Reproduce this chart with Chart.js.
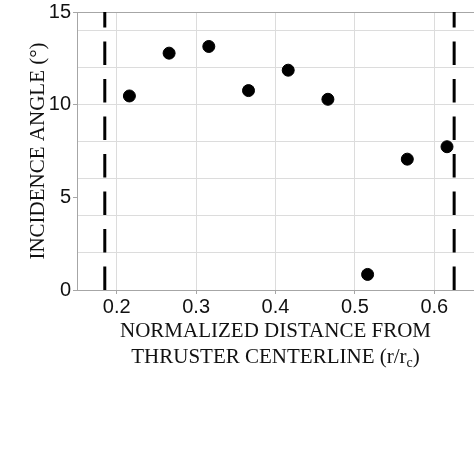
<!DOCTYPE html>
<html>
<head>
<meta charset="utf-8">
<script src="https://cdn.jsdelivr.net/npm/chart.js@4"></script>
<style>
  body { margin: 0; background: #fff; }
  canvas { display: block; }
</style>
</head>
<body>
<canvas id="chart" width="474" height="449"></canvas>
<script>
// measured points
const distance = [0.216, 0.266, 0.316, 0.366, 0.416, 0.466, 0.516, 0.566, 0.616];
const angle = [10.47, 12.78, 13.14, 10.76, 11.86, 10.29, 0.84, 7.06, 7.73];
// dashed boundary lines
const boundaries = [0.185, 0.625];

const xTicks = [0.2, 0.3, 0.4, 0.5, 0.6];
const yLabels = [0, 5, 10, 15];
const yGrid = [2, 4, 6, 8, 10, 12, 14];

const gridGray = "#dcdcdc";
const boxGray = "#a6a6a6";

const titles = {
  id: "titles",
  afterDraw(chart) {
    const { ctx, chartArea } = chart;
    const cx = (chartArea.left + chartArea.right) / 2;
    const cy = (chartArea.top + chartArea.bottom) / 2;
    ctx.save();
    ctx.fillStyle = "#111";
    ctx.font = '21px "Liberation Serif"';
    ctx.textBaseline = "alphabetic";

    // y title
    ctx.save();
    ctx.translate(44, cy);
    ctx.rotate(-Math.PI / 2);
    ctx.textAlign = "center";
    ctx.fillText("INCIDENCE ANGLE (°)", 0, 0);
    ctx.restore();

    // x title, line 1
    ctx.textAlign = "center";
    ctx.fillText("NORMALIZED DISTANCE FROM", cx, 337);

    // line 2 with subscript c
    const a = "THRUSTER CENTERLINE (r/r";
    const b = "c";
    const c = ")";
    ctx.textAlign = "left";
    const wa = ctx.measureText(a).width;
    const wc = ctx.measureText(c).width;
    ctx.font = '14px "Liberation Serif"';
    const wb = ctx.measureText(b).width;
    let x = cx - (wa + wb + wc) / 2;
    ctx.font = '21px "Liberation Serif"';
    ctx.fillText(a, x, 363);
    x += wa;
    ctx.font = '14px "Liberation Serif"';
    ctx.fillText(b, x, 367);
    x += wb;
    ctx.font = '21px "Liberation Serif"';
    ctx.fillText(c, x, 363);
    ctx.restore();
  }
};

const dashedSets = boundaries.map(b => ({
  type: "line",
  data: [{ x: b, y: 0 }, { x: b, y: 15 }],
  borderColor: "#000",
  borderWidth: 3,
  borderDash: [23.5, 14],
  pointRadius: 0,
  showLine: true,
  fill: false,
  order: 2
}));

new Chart(document.getElementById("chart"), {
  type: "scatter",
  data: {
    datasets: [
      {
        data: distance.map((d, i) => ({ x: d, y: angle[i] })),
        backgroundColor: "#000",
        borderColor: "#000",
        pointRadius: 6,
        order: 1
      },
      ...dashedSets
    ]
  },
  options: {
    responsive: false,
    devicePixelRatio: 1,
    animation: false,
    layout: { autoPadding: false, padding: { top: 12, right: 0, left: 0, bottom: 0 } },
    plugins: { legend: { display: false }, tooltip: { enabled: false } },
    scales: {
      x: {
        type: "linear",
        min: 0.15,
        max: 0.65,
        afterBuildTicks: s => { s.ticks = xTicks.map(v => ({ value: v })); },
        afterFit: s => {
          s.height = 449 - 290;
          s.paddingLeft = 0;
          s.paddingRight = 0;
        },
        border: { color: boxGray, width: 1 },
        grid: { color: gridGray, tickLength: 4, tickColor: boxGray },
        ticks: {
          padding: 1,
          color: "#111",
          font: { family: "Liberation Sans", size: 20 },
          maxRotation: 0,
          callback: v => v.toFixed(1)
        }
      },
      y: {
        min: 0,
        max: 15,
        afterBuildTicks: s => {
          const vals = [...new Set([...yLabels, ...yGrid])].sort((p, q) => p - q);
          s.ticks = vals.map(v => ({ value: v }));
        },
        afterFit: s => {
          s.width = 77;
          s.paddingTop = 0;
          s.paddingBottom = 0;
        },
        border: { color: boxGray, width: 1 },
        grid: {
          tickLength: 4,
          color: c => {
            const v = c.tick && c.tick.value;
            if (v === 15) return boxGray;
            return yGrid.includes(v) ? gridGray : "rgba(0,0,0,0)";
          },
          tickColor: c => yLabels.includes(c.tick && c.tick.value) ? boxGray : "rgba(0,0,0,0)"
        },
        ticks: {
          padding: 2,
          color: "#111",
          font: { family: "Liberation Sans", size: 20 },
          callback: v => yLabels.includes(v) ? String(v) : ""
        }
      }
    }
  },
  plugins: [titles]
});
</script>
</body>
</html>
